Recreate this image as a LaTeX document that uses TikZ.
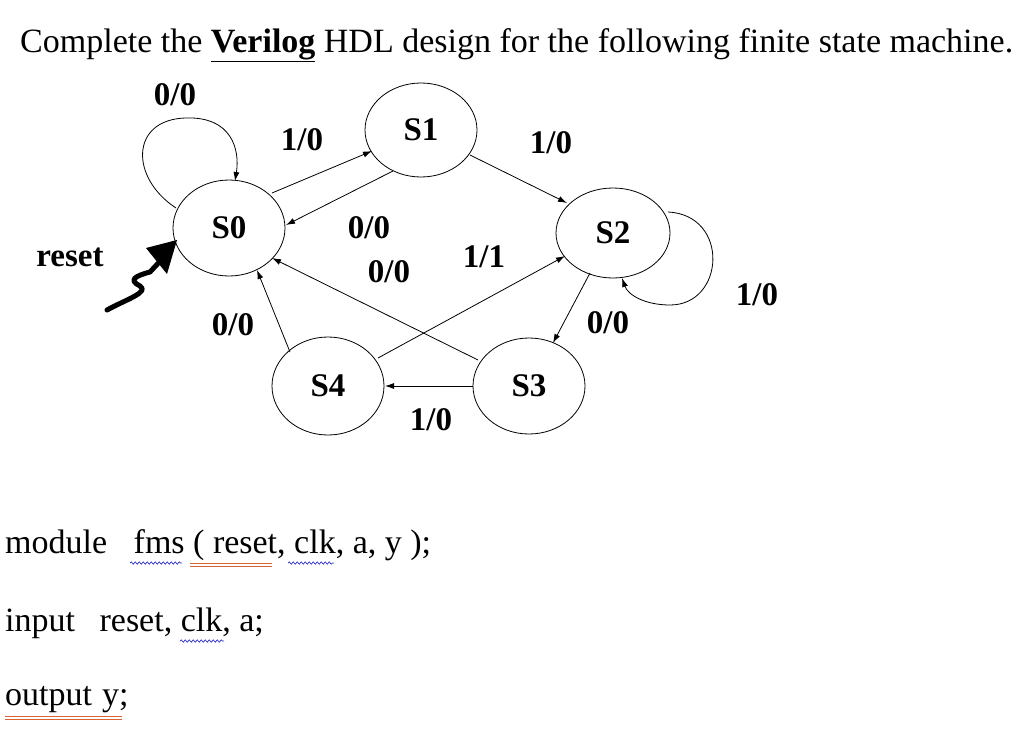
\documentclass[tikz,border=0pt]{standalone}
\usepackage{fontspec}
\setmainfont{Liberation Serif}
\usetikzlibrary{decorations.pathmorphing, arrows.meta}

\tikzset{
  statering/.style={line width=0.8pt},
  lbl/.style={inner sep=0.75pt, font=\fontsize{33}{36}\selectfont\bfseries},
  txt/.style={anchor=west, inner sep=0pt, font=\fontsize{34}{38}\selectfont},
  trans/.style={line width=0.8pt, -{Latex[length=9pt,width=6pt]}},
  spell/.style={line width=1pt, draw={rgb,255:red,215;green,100;blue,50}},
  wavy/.style={line width=0.7pt, draw={rgb,255:red,50;green,50;blue,200}, decorate, decoration={snake, amplitude=1.2pt, segment length=4pt}}
}
\begin{document}
\begin{tikzpicture}[x=1pt,y=1pt,yscale=-1]
\useasboundingbox (0,0) rectangle (1024,752);

% states
\draw[statering] (229,228) ellipse [x radius=56, y radius=48];
\node[lbl] (s0) at (229,228) {S0};
\draw[statering] (421,130) ellipse [x radius=56, y radius=47];
\node[lbl] (s1) at (421,130) {S1};
\draw[statering] (613,233) ellipse [x radius=57, y radius=45];
\node[lbl] (s2) at (613,233) {S2};
\draw[statering] (529,386) ellipse [x radius=56, y radius=48];
\node[lbl] (s3) at (529,386) {S3};
\draw[statering] (328,386) ellipse [x radius=56, y radius=49];
\node[lbl] (s4) at (328,386) {S4};

% transitions
\coordinate (l0a) at (176,208);
\coordinate (l0b) at (235,181);
\draw[trans] (l0a) .. controls (130,178) and (130,120) .. (185,118) .. controls (232,116) and (240,150) .. (l0b);
\coordinate (l2a) at (668,212);
\coordinate (l2b) at (622,278);
\draw[trans] (l2a) .. controls (730,215) and (725,305) .. (670,305) .. controls (645,305) and (628,295) .. (l2b);
\draw[trans] (272,193) -- (372,151);
\draw[trans] (393,171) -- (286,225);
\draw[trans] (470,155) -- (567,203);
\draw[trans] (590,273) -- (553,343);
\draw[trans] (478,360) -- (272,258);
\draw[trans] (378,358) -- (565,256);
\draw[trans] (473,386) -- (385,386);
\draw[trans] (290,352) -- (257,270);

% labels
\node[lbl] at (175,95) {0/0};
\node[lbl] at (302,140) {1/0};
\node[lbl] at (551,143) {1/0};
\node[lbl] at (369,228) {0/0};
\node[lbl] at (389,272) {0/0};
\node[lbl] at (484,257) {1/1};
\node[lbl] at (757,295) {1/0};
\node[lbl] at (608,323) {0/0};
\node[lbl] at (233,325) {0/0};
\node[lbl] at (431,420) {1/0};
\node[lbl] at (70,257) {reset};

% reset arrow
\coordinate (r0) at (107,310);
\draw[line width=5pt, line cap=round, line join=round] (r0) .. controls (125,300) and (150,292) .. (140,286) .. controls (128,280) and (135,276) .. (150,272) -- (163,258);
\fill (177,240) -- (146,248) -- (167,274) -- cycle;

% text
\node[txt] (title) at (20,45) {Complete the \textbf{\underline{Verilog}} HDL design for the following finite state machine.};
\node[txt] (mod) at (5,545) {module\hspace{18pt} fms ( reset, clk, a, y );};
\node[txt] (inp) at (5,623) {input\hspace{16pt} reset, clk, a;};
\node[txt] (outp) at (5,700) {output\hspace{10pt}y;};
\draw[wavy] (130,563) -- (182,563);
\draw[spell] (190,563) -- (272,563);
\draw[spell] (190,566) -- (272,566);
\draw[wavy] (288,563) -- (334,563);
\draw[wavy] (180,641) -- (224,641);
\draw[spell] (5,716) -- (122,716);
\draw[spell] (5,719) -- (122,719);
\end{tikzpicture}
\end{document}
